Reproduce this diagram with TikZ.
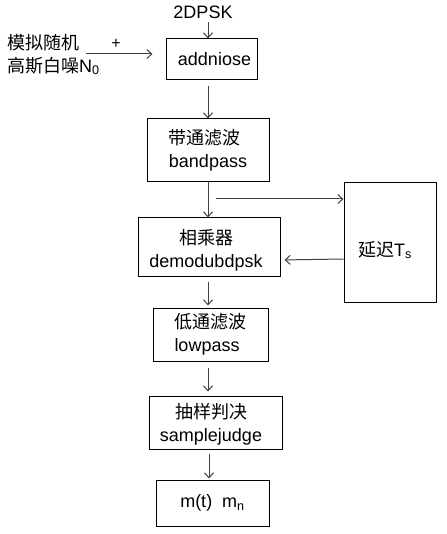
\documentclass[tikz,border=0pt]{standalone}
\usepackage{fontspec}
\setmainfont{Liberation Sans}
\newfontfamily\cjk{Noto Sans CJK SC}
\usetikzlibrary{arrows.meta}
\newcommand\fs{\fontsize{18}{23}\selectfont}
\tikzset{
  box/.style={draw=black, line width=1pt, rectangle, inner sep=0pt, font=\fs},
  arr/.style={draw=black!75, line width=1pt, -{Straight Barb[length=5pt,width=9pt]}},
  lbl/.style={inner sep=0pt, font=\fs, align=left}
}
\begin{document}
\begin{tikzpicture}[x=1pt,y=-1pt]
\useasboundingbox (0,0) rectangle (446,534);
% boxes
\node[box, minimum width=91pt, minimum height=41pt] (an) at (211.5,59.5) {\hspace*{6pt}addniose};
\node[box, align=left, minimum width=122pt, minimum height=63pt] (bp) at (208,150.5) {{\cjk 带通滤波}\\bandpass};
\node[box, minimum width=142pt, minimum height=58pt] (dm) at (209,247) {};
\node[lbl, align=center] (dmt) at (206,250) {{\cjk 相乘器}\\demodubdpsk};
\node[box, minimum width=92pt, minimum height=119pt] (dl) at (390,242.5) {};
\node[lbl] (dlt) at (385,250) {{\cjk 延迟}T\textsubscript{s}};
\node[box, align=left, minimum width=115pt, minimum height=53pt] (lp) at (210.5,334.5) {{\cjk 低通滤波}\\lowpass};
\node[box, minimum width=133pt, minimum height=53pt] (sj) at (215.5,422.5) {};
\node[lbl, align=center] (sjt) at (211,424) {{\cjk 抽样判决}\\samplejudge};
\node[box, minimum width=113pt, minimum height=46pt] (mt) at (212.5,503) {m(t)\ \ m\textsubscript{n}};
% labels
\node[lbl] (in) at (203,12) {2DPSK};
\node[lbl, anchor=west] (ns) at (7,54.5) {{\cjk 模拟随机}\\{\cjk 高斯白噪}N\textsubscript{0}};
\node[inner sep=0pt, font=\fontsize{16}{18}\selectfont] (pl) at (116,44) {+};
% coordinates
\coordinate (ax) at (208,0);
\coordinate (ax2) at (209,0);
\coordinate (na) at (86,54);
\coordinate (br) at (216,199);
\coordinate (dr) at (343,259);
\coordinate (dd) at (284,260);
% connectors
\draw[arr, shorten <=3pt] (in.south -| ax) -- (an.north -| ax);
\draw[arr, shorten >=13pt] (na) -- (an.west |- na);
\draw[arr, shorten <=6pt] (an.south -| ax) -- (bp.north -| ax);
\draw[arr] (bp.south -| ax) -- (dm.north -| ax);
\draw[arr] (br) -- (dl.west |- br);
\draw[arr, shorten >=4pt] (dl.west |- dr) -- (dm.east |- dd);
\draw[arr, shorten <=5pt, shorten >=2pt] (dm.south -| ax) -- (lp.north -| ax);
\draw[arr, shorten <=6pt, shorten >=4pt] (lp.south -| ax) -- (sj.north -| ax);
\draw[arr, shorten <=4pt, shorten >=1pt] (sj.south -| ax2) -- (mt.north -| ax2);
\end{tikzpicture}
\end{document}
